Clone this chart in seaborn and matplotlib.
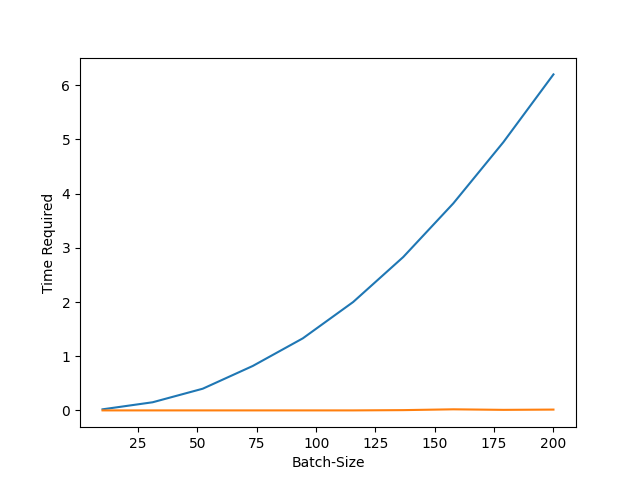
import matplotlib
matplotlib.use("Agg")
import matplotlib.pyplot as plt
import seaborn as sns

batch_sizes = [10, 31.1, 52.2, 73.3, 94.4, 115.6, 136.7, 157.8, 178.9, 200]
time_slow = [0.02, 0.15, 0.40, 0.82, 1.33, 2.00, 2.83, 3.82, 4.95, 6.20]
time_fast = [0.0, 0.0, 0.0, 0.0, 0.0, 0.0, 0.005, 0.02, 0.01, 0.015]

fig, ax = plt.subplots(figsize=(6.4, 4.8), dpi=100)
sns.lineplot(x=batch_sizes, y=time_slow, ax=ax)
sns.lineplot(x=batch_sizes, y=time_fast, ax=ax)
ax.set_xlabel("Batch-Size")
ax.set_ylabel("Time Required")
fig.savefig("out.png")
